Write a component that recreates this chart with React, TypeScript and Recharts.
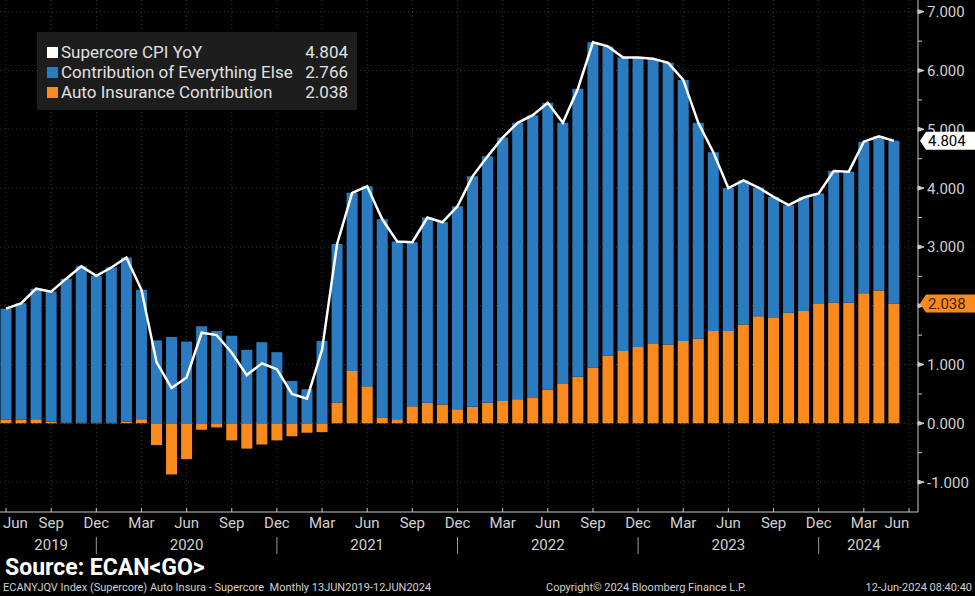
import React from 'react';
import { ComposedChart, Bar, Line, XAxis, YAxis, CartesianGrid } from 'recharts';

// monthly observations, Jun 2019 .. May 2024
const months = [
  'Jun 2019', 'Jul 2019', 'Aug 2019', 'Sep 2019', 'Oct 2019', 'Nov 2019', 'Dec 2019',
  'Jan 2020', 'Feb 2020', 'Mar 2020', 'Apr 2020', 'May 2020', 'Jun 2020', 'Jul 2020', 'Aug 2020', 'Sep 2020', 'Oct 2020', 'Nov 2020', 'Dec 2020',
  'Jan 2021', 'Feb 2021', 'Mar 2021', 'Apr 2021', 'May 2021', 'Jun 2021', 'Jul 2021', 'Aug 2021', 'Sep 2021', 'Oct 2021', 'Nov 2021', 'Dec 2021',
  'Jan 2022', 'Feb 2022', 'Mar 2022', 'Apr 2022', 'May 2022', 'Jun 2022', 'Jul 2022', 'Aug 2022', 'Sep 2022', 'Oct 2022', 'Nov 2022', 'Dec 2022',
  'Jan 2023', 'Feb 2023', 'Mar 2023', 'Apr 2023', 'May 2023', 'Jun 2023', 'Jul 2023', 'Aug 2023', 'Sep 2023', 'Oct 2023', 'Nov 2023', 'Dec 2023',
  'Jan 2024', 'Feb 2024', 'Mar 2024', 'Apr 2024', 'May 2024',
];

const supercoreYoY = [
  1.95, 2.04, 2.29, 2.24, 2.46, 2.67, 2.51,
  2.65, 2.82, 2.27, 1.04, 0.60, 0.78, 1.54, 1.50, 1.20, 0.82, 1.02, 0.92,
  0.50, 0.42, 1.25, 3.05, 3.92, 4.03, 3.47, 3.09, 3.08, 3.50, 3.42, 3.69,
  4.20, 4.54, 4.86, 5.11, 5.24, 5.45, 5.11, 5.69, 6.48, 6.41, 6.22, 6.22,
  6.20, 6.13, 5.84, 5.11, 4.61, 4.00, 4.13, 4.01, 3.85, 3.71, 3.84, 3.91,
  4.29, 4.28, 4.79, 4.88, 4.804,
];

const everythingElse = [
  1.89, 1.98, 2.22, 2.21, 2.45, 2.66, 2.50,
  2.64, 2.79, 2.20, 1.41, 1.47, 1.39, 1.65, 1.57, 1.49, 1.25, 1.38, 1.21,
  0.72, 0.58, 1.40, 2.70, 3.03, 3.40, 3.37, 3.02, 2.79, 3.15, 3.10, 3.45,
  3.92, 4.19, 4.48, 4.70, 4.81, 4.88, 4.43, 4.90, 5.53, 5.26, 4.99, 4.92,
  4.85, 4.79, 4.44, 3.67, 3.04, 2.43, 2.45, 2.19, 2.06, 1.83, 1.93, 1.88,
  2.24, 2.23, 2.58, 2.62, 2.766,
];

const autoInsurance = [
  0.06, 0.06, 0.07, 0.03, 0.01, 0.01, 0.01,
  0.01, 0.03, 0.07, -0.37, -0.87, -0.61, -0.11, -0.07, -0.29, -0.43, -0.36, -0.29,
  -0.22, -0.16, -0.15, 0.35, 0.89, 0.63, 0.10, 0.07, 0.29, 0.35, 0.32, 0.24,
  0.28, 0.35, 0.38, 0.41, 0.43, 0.57, 0.68, 0.79, 0.95, 1.15, 1.23, 1.30,
  1.35, 1.34, 1.40, 1.44, 1.57, 1.57, 1.68, 1.82, 1.79, 1.88, 1.91, 2.03,
  2.05, 2.05, 2.21, 2.26, 2.038,
];

// x axis: quarterly ticks (month index) and their labels
const quarterTicks = [0, 3, 6, 9, 12, 15, 18, 21, 24, 27, 30, 33, 36, 39, 42, 45, 48, 51, 54, 57, 60];
const quarterLabels = ['Jun', 'Sep', 'Dec', 'Mar', 'Jun', 'Sep', 'Dec', 'Mar', 'Jun', 'Sep', 'Dec', 'Mar', 'Jun', 'Sep', 'Dec', 'Mar', 'Jun', 'Sep', 'Dec', 'Mar', 'Jun'];
const yearLabels = ['2019', '2020', '2021', '2022', '2023', '2024'];
const yearTickIndex = [3, 12, 24, 36, 48, 57];
const yearBreakIndex = [6, 18, 30, 42, 54];

const yTicks = [-1, 0, 1, 2, 3, 4, 5, 6, 7];
const yMinorTicks = [-0.5, 0.5, 1.5, 2.5, 3.5, 4.5, 5.5, 6.5];

const BLUE = '#2b7bc1';
const ORANGE = '#fb8a1c';
const AXIS = '#c8c8c8';
const FONT = 'Roboto, "DejaVu Sans", sans-serif';

const rows = months.map((m, i) => ({
  i,
  month: m,
  total: supercoreYoY[i],
  other: everythingElse[i],
  auto: autoInsurance[i],
}));

const last = months.length - 1;

// last-value tags sitting on the right axis (drawn after the labels so they cover them)
const tags = [
  { value: autoInsurance[last], fill: ORANGE, color: '#3a1c00' },
  { value: supercoreYoY[last], fill: '#ffffff', color: '#000000' },
];

const XTick = (props: any) => {
  const { x, y, payload } = props;
  const v = payload.value;
  const k = quarterTicks.indexOf(v);
  const isFirst = k === 0;
  const isLast = k === quarterTicks.length - 1;
  const yi = yearTickIndex.indexOf(v);
  return (
    <g>
      <line x1={x} x2={x} y1={y} y2={y - 4} stroke={AXIS} />
      <text
        x={isFirst ? x - 3 : isLast ? x - 12 : x}
        y={y + 16}
        textAnchor={isFirst ? 'start' : 'middle'}
        fill="#d0d0d0"
        fontSize={15}
        fontFamily={FONT}
      >
        {quarterLabels[k]}
      </text>
      {yi >= 0 && (
        <text x={x} y={y + 38} textAnchor="middle" fill="#d0d0d0" fontSize={15} fontFamily={FONT}>
          {yearLabels[yi]}
        </text>
      )}
      {yearBreakIndex.includes(v) && <line x1={x} x2={x} y1={y + 25} y2={y + 42} stroke="#9a9a9a" />}
    </g>
  );
};

const YTick = (props: any) => {
  const { x, y, payload } = props;
  const v = payload.value;
  const tag = tags.find((t) => t.value === v);
  if (tag) {
    return (
      <g>
        <path d={`M${x + 2},${y} L${x + 8},${y - 9} L${x + 60},${y - 9} L${x + 60},${y + 9} L${x + 8},${y + 9} Z`} fill={tag.fill} />
        <text x={x + 10} y={y + 5.5} fill={tag.color} fontSize={15} fontFamily={FONT}>
          {v.toFixed(3)}
        </text>
      </g>
    );
  }
  if (!Number.isInteger(v)) {
    return <line x1={x} x2={x + 4} y1={y} y2={y} stroke={AXIS} />;
  }
  return (
    <g>
      <path d={`M${x},${y - 2} L${x + 6},${y} L${x},${y + 2} Z`} fill={AXIS} stroke={AXIS} />
      <text x={x + 9} y={y + 5.5} fill="#d0d0d0" fontSize={15} fontFamily={FONT}>
        {v.toFixed(3)}
      </text>
    </g>
  );
};

const legendItems = [
  { name: 'Supercore CPI YoY', color: '#ffffff', value: supercoreYoY[last] },
  { name: 'Contribution of Everything Else', color: BLUE, value: everythingElse[last] },
  { name: 'Auto Insurance Contribution', color: ORANGE, value: autoInsurance[last] },
];

export default function App() {
  return (
    <div style={{ position: 'fixed', left: 0, top: 0, width: 975, height: 596, background: '#000', overflow: 'hidden', fontFamily: FONT }}>
      <ComposedChart width={975} height={560} data={rows} margin={{ top: 0, right: 0, bottom: 0, left: 0 }} stackOffset="sign">
        <CartesianGrid stroke="#3a3a3a" strokeDasharray="1 3" horizontalValues={yTicks} verticalValues={quarterTicks} />
        <XAxis
          dataKey="i"
          type="number"
          domain={[-0.4, 60.6]}
          allowDataOverflow
          ticks={quarterTicks}
          interval={0}
          height={48}
          axisLine={{ stroke: AXIS }}
          tickLine={false}
          tickSize={0}
          tickMargin={0}
          tick={XTick}
        />
        <YAxis
          orientation="right"
          type="number"
          width={57}
          domain={[-1.508, 7.199]}
          allowDataOverflow
          ticks={[...yTicks, ...yMinorTicks, ...tags.map((t) => t.value)]}
          interval={0}
          axisLine={{ stroke: AXIS }}
          tickLine={false}
          tickSize={0}
          tickMargin={0}
          tick={YTick}
        />
        <Bar dataKey="auto" stackId="s" fill={ORANGE} barSize={11} isAnimationActive={false} />
        <Bar dataKey="other" stackId="s" fill={BLUE} barSize={11} isAnimationActive={false} />
        <Line
          dataKey="total"
          type="linear"
          stroke="#ffffff"
          strokeWidth={2.5}
          dot={false}
          activeDot={false}
          isAnimationActive={false}
        />
      </ComposedChart>

      <div style={{ position: 'absolute', left: 37, top: 32, width: 320, height: 78, background: '#1d1d1d', paddingTop: 10, boxSizing: 'border-box' }}>
        {legendItems.map((it) => (
          <div key={it.name} style={{ display: 'flex', alignItems: 'center', height: 20, paddingLeft: 10, paddingRight: 9, color: '#e0e0e0', fontSize: 17 }}>
            <span style={{ width: 11, height: 11, background: it.color, marginRight: 3, flex: 'none' }} />
            <span style={{ flex: 1, whiteSpace: 'nowrap' }}>{it.name}</span>
            <span>{it.value.toFixed(3)}</span>
          </div>
        ))}
      </div>

      <div style={{ position: 'absolute', left: 5, top: 556, color: '#fff', fontWeight: 700, fontSize: 23, lineHeight: '24px' }}>Source: ECAN&lt;GO&gt;</div>
      <div style={{ position: 'absolute', left: 3, top: 582, color: '#d0d0d0', fontSize: 11, lineHeight: '12px', whiteSpace: 'nowrap' }}>
        ECANYJQV Index (Supercore) Auto Insura - Supercore&nbsp;&nbsp;Monthly 13JUN2019-12JUN2024
      </div>
      <div style={{ position: 'absolute', left: 546, top: 582, color: '#d0d0d0', fontSize: 11, lineHeight: '12px', whiteSpace: 'nowrap' }}>
        Copyright© 2024 Bloomberg Finance L.P.
      </div>
      <div style={{ position: 'absolute', right: 3, top: 582, color: '#d0d0d0', fontSize: 11, lineHeight: '12px', whiteSpace: 'nowrap' }}>
        12-Jun-2024 08:40:40
      </div>
    </div>
  );
}
